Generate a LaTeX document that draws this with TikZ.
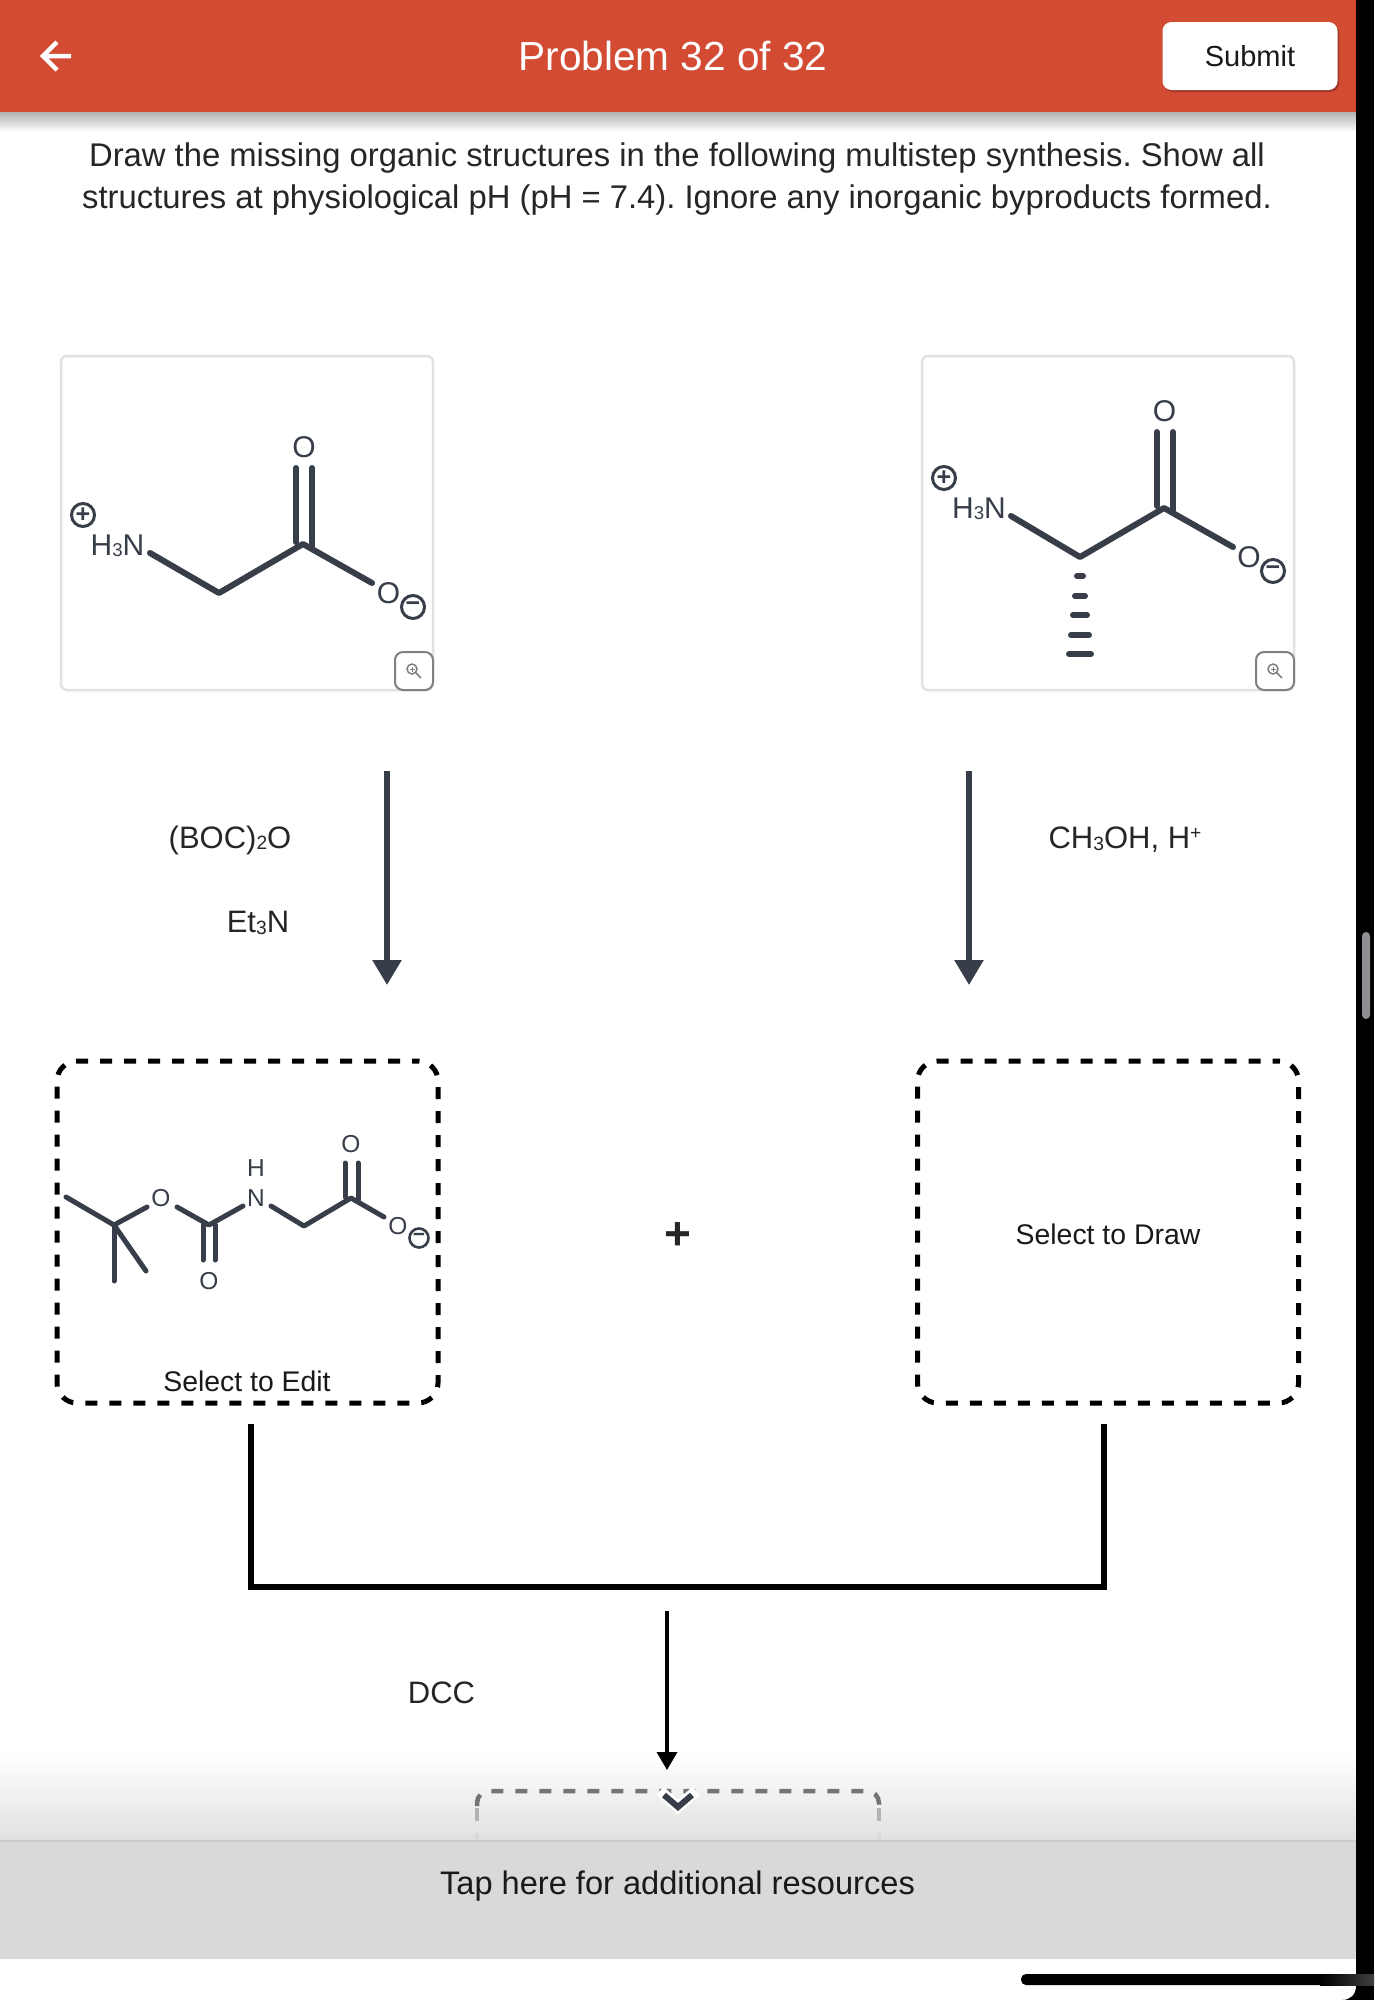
\documentclass[tikz,border=0pt]{standalone}
\usepackage{fontspec}
\setmainfont{Liberation Sans}
\usetikzlibrary{arrows.meta}
\definecolor{barred}{HTML}{D34B33}
\definecolor{inkdark}{HTML}{373D49}
\definecolor{cardedge}{HTML}{E2E2E2}
\definecolor{footgray}{HTML}{D9D9D9}
\definecolor{footline}{HTML}{C9CDD2}
\definecolor{thumbgray}{HTML}{8E8E93}
\newcommand{\lowthree}{\raisebox{-0.08ex}{\scalebox{0.62}{3}}}
\newcommand{\lowtwo}{\raisebox{-0.08ex}{\scalebox{0.62}{2}}}
\newcommand{\fsz}[1]{\fontsize{#1}{#1}\selectfont}
\tikzset{
  card/.style={draw=cardedge,line width=2.5pt,rounded corners=6pt,inner sep=0pt,
    minimum width=372pt,minimum height=334pt},
  zoombtn/.style={draw=gray,fill=white,line width=2pt,rounded corners=8pt,inner sep=0pt,
    minimum size=38pt},
  dashbox/.style={draw=black,line width=5pt,rounded corners=20pt,inner sep=0pt,
    dash pattern=on 12pt off 12pt,minimum width=381pt,minimum height=342pt},
  bond/.style={draw=inkdark,line width=6pt,line cap=round},
  thinbond/.style={draw=inkdark,line width=5pt,line cap=round},
  atom/.style={text=inkdark,font=\fsz{30},inner sep=0pt},
  smallatom/.style={text=inkdark,font=\fsz{24.5},inner sep=0pt},
  charge/.style={draw=inkdark,circle,line width=3pt,minimum size=23pt,inner sep=0pt,
    text=inkdark,font=\fsz{25}\bfseries},
  smallcharge/.style={charge,line width=2.6pt,minimum size=19pt,font=\fsz{21}\bfseries},
  reagent/.style={text=black!85,font=\fsz{31},inner sep=0pt},
  uilabel/.style={text=black!90,font=\fsz{28.4},inner sep=0pt},
  rxnarrow/.style={draw=inkdark,fill=inkdark,line width=5.5pt,-{Triangle[length=25pt,width=28pt]}},
}
\begin{document}
\frenchspacing
\begin{tikzpicture}[x=1pt,y=-1pt]
  \useasboundingbox (0,0) rectangle (1374,2000);
  \fill[white] (0,0) rectangle (1374,2000);

  % header
  \shade[top color=black!30,bottom color=white] (0,112) rectangle (1356,132);
  \fill[barred] (0,0) rectangle (1356,112);
  \node[text=white,font=\fsz{40.6},inner sep=0pt] (title) at (673,56) {Problem 32 of 32};
  \fill[black!25!barred,rounded corners=9pt] (1164,24) rectangle (1339,92);
  \node[fill=white,rounded corners=9pt,minimum width=175pt,minimum height=68pt,inner sep=0pt,
    text=black!90,font=\fsz{29}] (submit) at (1250,56) {Submit};
  \draw[white,line width=4.5pt,line join=miter] (71,56) -- (42,56) (57,42) -- (43,56) -- (57,70);

  % question
  \node[align=center,text=black!85,font=\fontsize{32.8}{42}\selectfont,inner sep=0pt] (question)
    at (677,179.5) {Draw the missing organic structures in the following multistep synthesis. Show all\\
    structures at physiological pH (pH = 7.4). Ignore any inorganic byproducts formed.};

  % top left card
  \node[card] (cardA) at (247,523) {};
  \node[zoombtn] (zoomA) at (414,671) {};
  \draw[gray,line width=1.5pt] (412,669) circle (5pt) (416,673) -- (421,678);
  \draw[gray,line width=1pt] (409.5,669) -- (414.5,669) (412,666.5) -- (412,671.5);
  \node[charge] (plusA) at (83,515) {+};
  \node[atom] (nA) at (117.5,545.5) {H\lowthree N};
  \node[atom] (oA) at (304,447) {O};
  \node[atom] (omA) at (388.5,593) {O};
  \node[charge] (minusA) at (413,607) {\raisebox{1.5pt}{−}};
  \coordinate (a1) at (150,553);
  \coordinate (a2) at (219,593);
  \coordinate (a3) at (303,544);
  \coordinate (a4) at (372,583);
  \coordinate (a5) at (296,468);
  \coordinate (a6) at (296,542);
  \coordinate (a7) at (312,468);
  \coordinate (a8) at (312,546);
  \draw[bond,line join=round] (a1) -- (a2) -- (a3) -- (a4);
  \draw[bond] (a5) -- (a6);
  \draw[bond] (a7) -- (a8);

  % top right card
  \node[card] (cardB) at (1108,523) {};
  \node[zoombtn] (zoomB) at (1275,671) {};
  \draw[gray,line width=1.5pt] (1273,669) circle (5pt) (1277,673) -- (1282,678);
  \draw[gray,line width=1pt] (1270.5,669) -- (1275.5,669) (1273,666.5) -- (1273,671.5);
  \node[charge] (plusB) at (944,478) {+};
  \node[atom] (nB) at (979,509) {H\lowthree N};
  \node[atom] (oB) at (1164.5,411) {O};
  \node[atom] (omB) at (1249,557) {O};
  \node[charge] (minusB) at (1273,571) {\raisebox{1.5pt}{−}};
  \coordinate (b1) at (1011,516);
  \coordinate (b2) at (1080,557);
  \coordinate (b3) at (1164,508);
  \coordinate (b4) at (1233,547);
  \coordinate (b5) at (1157,432);
  \coordinate (b6) at (1157,506);
  \coordinate (b7) at (1173,432);
  \coordinate (b8) at (1173,510);
  \draw[bond,line join=round] (b1) -- (b2) -- (b3) -- (b4);
  \draw[bond] (b5) -- (b6);
  \draw[bond] (b7) -- (b8);
  % hash bond
  \foreach \yy/\hw in {576/3,596/5,615/7,635/9,654/11}
    \draw[bond] (1080-\hw,\yy) -- (1080+\hw,\yy);

  % reaction arrows
  \coordinate (arrA) at (387,771);
  \coordinate (arrAend) at (387,985);
  \coordinate (arrB) at (969,771);
  \coordinate (arrBend) at (969,985);
  \draw[rxnarrow] (arrA) -- (arrAend);
  \draw[rxnarrow] (arrB) -- (arrBend);
  \node[reagent] (boc) at (230,840.5) {(BOC)\lowtwo O};
  \node[reagent] (etn) at (258,923) {Et\lowthree N};
  \node[reagent] (meoh) at (1125,840) {CH\lowthree OH, H\raisebox{0.55ex}{\scalebox{0.62}{+}}};

  % answer boxes
  \node[dashbox,dash phase=6pt] (boxEdit) at (247.5,1232) {};
  \node[dashbox,dash phase=6pt] (boxDraw) at (1108,1232) {};
  \node[uilabel] (edit) at (247,1381) {Select to Edit};
  \node[uilabel] (draw) at (1108,1234) {Select to Draw};
  \node[text=black!85,font=\fsz{46}\bfseries,inner sep=0pt] (plus) at (677.5,1236) {+};

  % product of the first step
  \coordinate (c1) at (66,1197);
  \coordinate (c2) at (114,1225);
  \coordinate (c3) at (114,1281);
  \coordinate (c4) at (146,1271);
  \coordinate (c5) at (147,1207);
  \coordinate (c6) at (177,1207);
  \coordinate (c7) at (209,1225);
  \coordinate (c8) at (243,1206);
  \coordinate (c9) at (271,1206);
  \coordinate (c10) at (304,1226);
  \coordinate (c11) at (351,1198);
  \coordinate (c12) at (384,1217);
  \coordinate (c13) at (345,1163);
  \coordinate (c14) at (345,1197);
  \coordinate (c15) at (358,1163);
  \coordinate (c16) at (358,1200);
  \coordinate (c17) at (203,1225);
  \coordinate (c18) at (203,1260);
  \coordinate (c19) at (215,1225);
  \coordinate (c20) at (215,1260);
  \draw[thinbond] (c1) -- (c2) -- (c5);
  \draw[thinbond] (c2) -- (c3);
  \draw[thinbond] (c2) -- (c4);
  \draw[thinbond,line join=round] (c6) -- (c7) -- (c8);
  \draw[thinbond,line join=round] (c9) -- (c10) -- (c11) -- (c12);
  \draw[thinbond] (c13) -- (c14);
  \draw[thinbond] (c15) -- (c16);
  \draw[thinbond] (c17) -- (c18);
  \draw[thinbond] (c19) -- (c20);
  \node[smallatom] (oEster) at (161,1198) {O};
  \node[smallatom] (oCarb) at (209,1281) {O};
  \node[smallatom] (nBoc) at (256,1198) {N};
  \node[smallatom] (hBoc) at (256,1168) {H};
  \node[smallatom] (oAcid) at (351,1144) {O};
  \node[smallatom] (omBoc) at (398,1226) {O};
  \node[smallcharge] (minusBoc) at (419,1238) {\raisebox{1.3pt}{−}};

  % bracket and last arrow
  \coordinate (brA) at (251,1424);
  \coordinate (brB) at (251,1587);
  \coordinate (brC) at (1104,1587);
  \coordinate (brD) at (1104,1424);
  \draw[black,line width=6pt] (brA) -- (brB) -- (brC) -- (brD);
  \node[reagent] (dcc) at (441.5,1693) {DCC};

  % bottom sheet
  \shade[top color=white,bottom color=black!12] (0,1753) rectangle (1356,1841);
  \coordinate (arrC) at (667,1611);
  \coordinate (arrCend) at (667,1770);
  \draw[black,fill=black,line width=3.5pt,-{Triangle[length=18pt,width=20pt]}] (arrC) -- (arrCend);
  \draw[black!55,line width=4.5pt,dash pattern=on 12pt off 12pt,rounded corners=12pt]
    (477,1806) -- (477,1791) -- (879,1791) -- (879,1806);
  \draw[black!30,line width=4pt] (477,1808) -- (477,1821) (879,1808) -- (879,1821);
  \draw[black!15,line width=4pt] (477,1833) -- (477,1840) (879,1833) -- (879,1840);
  \draw[white,line width=11pt,line join=miter] (660,1791) -- (678,1807) -- (696,1791);
  \draw[inkdark,line width=6pt,line join=miter] (664,1795) -- (678,1807) -- (692,1795);
  \fill[footgray] (0,1841) rectangle (1356,1959);
  \draw[footline,line width=1.5pt] (0,1841) -- (1356,1841);
  \node[text=black!90,font=\fsz{32.6},inner sep=0pt] (tap) at (677.5,1886) {Tap here for additional resources};

  % screen edge
  \fill[black] (1356,0) rectangle (1374,2000);
  \fill[black] (1342,2000) .. controls (1350,2000) and (1356,1995) .. (1356,1986) -- (1356,2000) -- cycle;
  \fill[thumbgray,rounded corners=4pt] (1362,932) rectangle (1370,1019);
  \fill[black,rounded corners=5pt] (1021,1974) rectangle (1330,1985);
  \shade[left color=black,right color=black!75] (1320,1974) rectangle (1374,1985);
\end{tikzpicture}
\end{document}
